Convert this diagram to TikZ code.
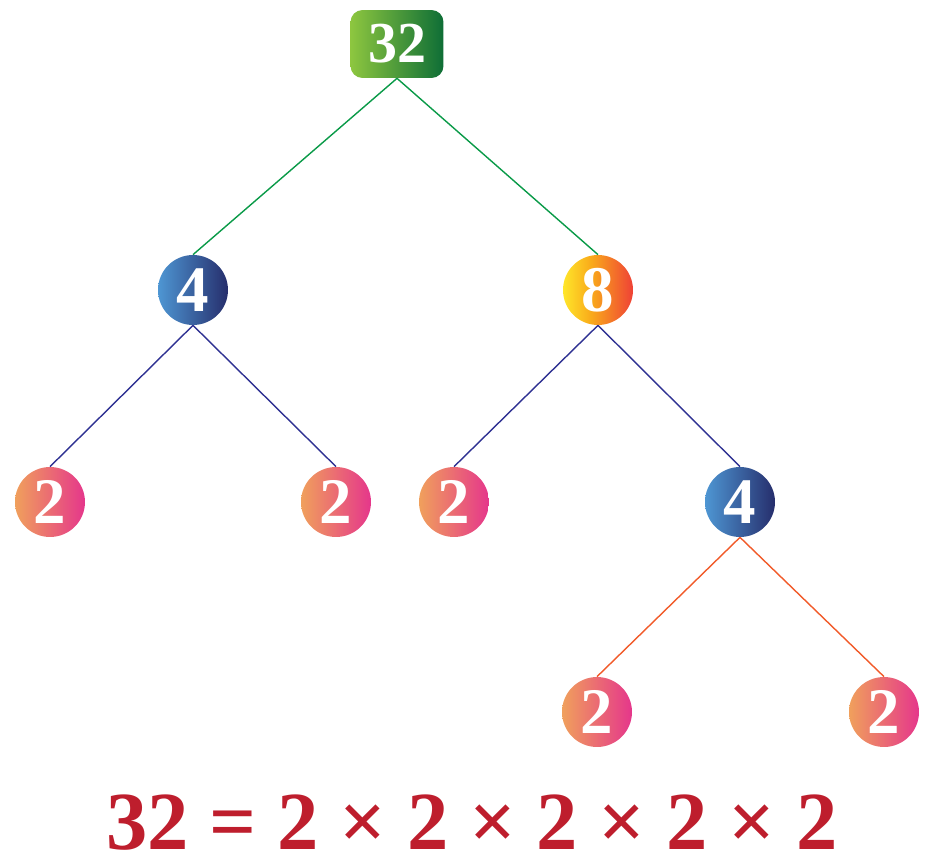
\documentclass[tikz,border=0pt]{standalone}
\usepackage{fontspec}
\setmainfont{Liberation Serif}
\usepackage{tikz}
\definecolor{lightgreen}{HTML}{8DC63F}
\definecolor{darkgreen}{HTML}{0E6E36}
\definecolor{lightblue}{HTML}{4E96D3}
\definecolor{darkblue}{HTML}{262E6C}
\definecolor{sunyellow}{HTML}{FFE62A}
\definecolor{sunorange}{HTML}{F9AA1A}
\definecolor{sunred}{HTML}{EF4136}
\definecolor{peach}{HTML}{F0A05C}
\definecolor{magenta}{HTML}{E5368B}
\definecolor{greenline}{HTML}{0A9A48}
\definecolor{blueline}{HTML}{2E3192}
\definecolor{orangeline}{HTML}{F15A29}
\definecolor{eqred}{HTML}{BE1E2D}

\pgfdeclarehorizontalshading{greenshade}{100bp}{color(0bp)=(lightgreen); color(25bp)=(lightgreen); color(75bp)=(darkgreen); color(100bp)=(darkgreen)}
\pgfdeclarehorizontalshading{blueshade}{100bp}{color(0bp)=(lightblue); color(25bp)=(lightblue); color(75bp)=(darkblue); color(100bp)=(darkblue)}
\pgfdeclarehorizontalshading{sunshade}{100bp}{color(0bp)=(sunyellow); color(25bp)=(sunyellow); color(45bp)=(sunorange); color(75bp)=(sunred); color(100bp)=(sunred)}
\pgfdeclarehorizontalshading{pinkshade}{100bp}{color(0bp)=(peach); color(25bp)=(peach); color(75bp)=(magenta); color(100bp)=(magenta)}

\tikzset{
  num/.style={circle,minimum size=1.4cm,inner sep=0pt,text=white,font=\fontsize{37}{40}\selectfont\bfseries},
  bluenum/.style={num,shading=blueshade},
  sunnum/.style={num,shading=sunshade},
  pinknum/.style={num,shading=pinkshade},
  rootbox/.style={rectangle,rounded corners=0.24cm,minimum width=1.86cm,minimum height=1.36cm,inner sep=0pt,shading=greenshade,text=white,font=\fontsize{33}{36}\selectfont\bfseries},
  branch/.style={line width=0.8pt}
}

\begin{document}
\begin{tikzpicture}[x=0.02cm,y=-0.02cm]
\useasboundingbox (0,0) rectangle (931,865);
% factor tree
\node[rootbox] (n32) at (397,44) {32};
\node[bluenum] (n4a) at (193,290) {4};
\node[sunnum] (n8) at (598,290) {8};
\node[pinknum] (n2a) at (50,502) {2};
\node[pinknum] (n2b) at (336,502) {2};
\node[pinknum] (n2c) at (454,502) {2};
\node[bluenum] (n4b) at (740,502) {4};
\node[pinknum] (n2d) at (597,712) {2};
\node[pinknum] (n2e) at (884,712) {2};
\draw[branch,greenline] (n32.south) -- (n4a.north);
\draw[branch,greenline] (n32.south) -- (n8.north);
\draw[branch,blueline] (n4a.south) -- (n2a.north);
\draw[branch,blueline] (n4a.south) -- (n2b.north);
\draw[branch,blueline] (n8.south) -- (n2c.north);
\draw[branch,blueline] (n8.south) -- (n4b.north);
\draw[branch,orangeline] (n4b.south) -- (n2d.north);
\draw[branch,orangeline] (n4b.south) -- (n2e.north);
% result
\node[anchor=base,text=eqred,inner sep=0pt,font=\fontsize{47}{50}\selectfont\bfseries] (eq) at (472,849) {32 = 2 × 2 × 2 × 2 × 2};
\end{tikzpicture}
\end{document}
